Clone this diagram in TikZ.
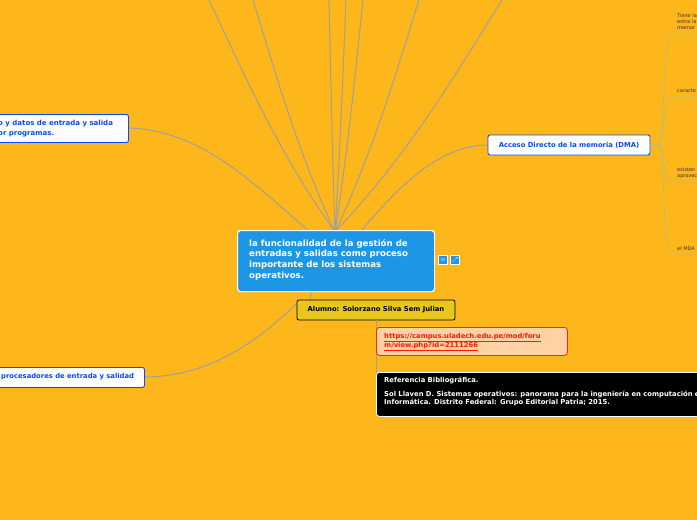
\documentclass[tikz,border=0pt]{standalone}
\usepackage{fontspec}
\setmainfont{DejaVu Sans}
\usetikzlibrary{calc}
\begin{document}
\begin{tikzpicture}[x=1pt,y=-1pt,
  conn/.style={draw=gray!75, line width=1pt},
  sub/.style={draw=gray!55!yellow, line width=0.8pt},
  wbox/.style={draw=blue!70!cyan, fill=white, rounded corners=2pt, line width=0.9pt, font=\fontsize{6.8}{8}\selectfont\bfseries, text=blue!70!cyan, align=left, inner sep=0pt},
  tiny/.style={font=\fontsize{5}{6}\selectfont, text=black!80, align=left, anchor=north west, inner sep=0pt}]
\definecolor{bg}{HTML}{FDB71A}
\definecolor{mainblue}{HTML}{1E96E6}
\useasboundingbox (0,0) rectangle (697,520);
\fill[bg] (0,0) rectangle (697,520);
\clip (0,0) rectangle (697,520);
% top connectors
\coordinate (c) at (335,232);
\foreach \x in {209,253,329,346,363,419,502}{
  \draw[conn] (c) .. controls ($(c)+({(\x-335)*0.45},-80)$) and ($(\x,0)+({(335-\x)*0.3},80)$) .. (\x,0);
}
\draw[conn] (310,232) .. controls (250,180) and (200,130) .. (128,128);
\draw[conn] (360,232) .. controls (400,185) and (440,145) .. (488,145);
\draw[conn] (300,300) .. controls (260,340) and (210,377) .. (144,377);
% central
\node[draw=white, fill=mainblue, rounded corners=3pt, line width=1.2pt, minimum width=197pt, minimum height=61pt, anchor=north west, inner sep=0pt] (main) at (237,230) {};
\node[anchor=north west, text=white, font=\fontsize{8.6}{10.8}\selectfont\bfseries, align=left, inner sep=0pt] (maint) at (249,239) {la funcionalidad de la gestión de\\entradas y salidas como proceso\\importante de los sistemas\\operativos.};
\node[fill=mainblue, draw=white, line width=0.4pt, minimum size=9pt, inner sep=0pt] (i1) at (443,260) {\color{white}\fontsize{6}{6}\selectfont$\equiv$};
\node[fill=mainblue, draw=white, line width=0.4pt, minimum size=9pt, inner sep=0pt] (i2) at (455,260) {\color{white}\fontsize{6}{6}\selectfont$\nearrow$};
% left nodes
\node[wbox, minimum width=148pt, minimum height=28pt, anchor=north west] (left) at (-20,114) {};
\node[anchor=north west, inner sep=0pt, font=\fontsize{7}{9.5}\selectfont\bfseries, text=blue!70!cyan, align=left] at (-2,120) {o y datos de entrada y salida\\or programas.};
\node[wbox, minimum width=164pt, minimum height=20pt, anchor=north west] (bl) at (-20,367) {};
\node[anchor=west, inner sep=0pt, font=\fontsize{6.8}{8}\selectfont\bfseries, text=blue!70!cyan] at (1,377) {procesadores de entrada y salidad};
% DMA
\node[wbox, minimum width=162pt, minimum height=20pt] (dma) at (569,145) {Acceso Directo de la memoria (DMA)};
\foreach \y in {34,97,182,255}{
  \draw[sub] (dma.east) -- (658,145) .. controls (664,145) and (664,\y) .. (670,\y) -- (697,\y);
}
\node[tiny] at (677,13) {Tiene la\\entre la\\memor};
\node[tiny] at (677,89) {caracte};
\node[tiny] at (677,167) {existen\\aprovec};
\node[tiny] at (677,246) {el MDA};
% alumno
\draw[conn] (main.south) ++(-25,0) -- (310,300);
\node[draw=black, fill=yellow!75!orange!90!black, rounded corners=2pt, line width=0.8pt, minimum width=158pt, minimum height=20pt, font=\fontsize{6.8}{8}\selectfont\bfseries, inner sep=0pt] (al) at (376,310) {Alumno: Solorzano Silva Sem Julian};
\draw[conn] (376,320) -- (376,400);
\node[draw=red!70!orange, fill=orange!35!white, rounded corners=3pt, line width=0.8pt, minimum width=191pt, minimum height=28pt, anchor=north west, inner sep=0pt] (url) at (376,327) {};
\node[anchor=north west, inner sep=0pt, font=\fontsize{6.8}{9.5}\selectfont\bfseries, text=red!80!orange, align=left] at (384,333) {\underline{https://campus.uladech.edu.pe/mod/foru}\\\underline{m/view.php?id=2111266}};
\node[draw=white, fill=black, rounded corners=3pt, line width=0.8pt, minimum width=340pt, minimum height=44pt, anchor=north west, inner sep=0pt] (ref) at (376,372) {};
\node[anchor=north west, inner sep=0pt, font=\fontsize{6.8}{8.5}\selectfont\bfseries, text=white, align=left] at (384,377) {Referencia Bibliográfica.\\[5pt]Sol Llaven D. Sistemas operativos: panorama para la ingeniería en computación e\\Informática. Distrito Federal: Grupo Editorial Patria; 2015.};
\end{tikzpicture}
\end{document}
